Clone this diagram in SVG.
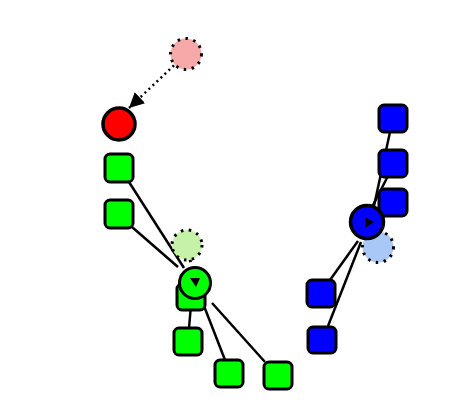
<svg xmlns="http://www.w3.org/2000/svg" width="474" height="409" viewBox="0 0 474 409">
<defs>
<style>
.sq{stroke:#000;stroke-width:3}
.g{fill:#00ff00}
.b{fill:#0000ff}
.e{stroke:#000;stroke-width:2.5;fill:none}
.d{stroke:#000;stroke-width:3;fill:none;stroke-dasharray:2.5 5}
.ghost{stroke:#000;stroke-width:3;stroke-dasharray:2.5 5.5}
</style>
<marker id="ah" viewBox="0 0 10 10" refX="10" refY="5" markerWidth="6" markerHeight="6" orient="auto">
<path d="M0,0 L10,5 L0,10 z" fill="#000"/>
</marker>
</defs>
<rect width="474" height="409" fill="#fff"/>
<g id="connectors">
<line class="d" x1="186" y1="54" x2="129" y2="108" style="stroke-dasharray:2 3.5;stroke-width:2.5" marker-end="url(#ah)"/>
<line class="d" x1="187" y1="245" x2="195" y2="283"/>
<line class="d" x1="378" y1="247" x2="367" y2="222"/>
<line class="e" x1="129" y1="182" x2="184" y2="268"/>
<line class="e" x1="132" y1="227" x2="178" y2="267"/>
<line class="e" x1="191" y1="305" x2="189" y2="328"/>
<line class="e" x1="204" y1="306" x2="225" y2="360"/>
<line class="e" x1="212" y1="303" x2="265" y2="362"/>
<line class="e" x1="390" y1="132" x2="374" y2="206"/>
<line class="e" x1="388" y1="176" x2="372" y2="207"/>
<line class="e" x1="382" y1="210" x2="376" y2="215"/>
<line class="e" x1="358" y1="241" x2="330" y2="280"/>
<line class="e" x1="361" y1="242" x2="328" y2="326"/>
</g>
<g id="pink"><circle cx="186" cy="54" r="15.5" fill="#f7a9a9" class="ghost"/></g>
<g id="red"><circle cx="119" cy="124" r="16" fill="#ff0000" stroke="#000" stroke-width="3.5"/></g>
<g id="gs1"><rect class="sq g" x="105" y="154" width="28" height="28" rx="5"/></g>
<g id="gs2"><rect class="sq g" x="105" y="200" width="28" height="28" rx="5"/></g>
<g id="lightgreen"><circle cx="187" cy="245" r="15" fill="#c6f2a8" class="ghost"/></g>
<g id="gs3"><rect class="sq g" x="177" y="284" width="28" height="26" rx="5"/></g>
<g id="ghub"><circle cx="195" cy="283" r="15.5" fill="#00ff00" stroke="#000" stroke-width="3"/><path d="M190,278 L200,278 L196,287 z" fill="#000"/></g>
<g id="gs4"><rect class="sq g" x="174" y="328" width="28" height="27" rx="5"/></g>
<g id="gs5"><rect class="sq g" x="215" y="360" width="28" height="27" rx="5"/></g>
<g id="gs6"><rect class="sq g" x="264" y="362" width="28" height="27" rx="5"/></g>
<g id="bs1"><rect class="sq b" x="379" y="105" width="28" height="27" rx="5"/></g>
<g id="bs2"><rect class="sq b" x="379" y="150" width="28" height="27" rx="5"/></g>
<g id="bs3"><rect class="sq b" x="379" y="189" width="28" height="27" rx="5"/></g>
<g id="lightblue"><circle cx="378" cy="247" r="15.5" fill="#a9c8f7" class="ghost"/></g>
<g id="bhub"><circle cx="367" cy="222" r="16.5" fill="#0000ff" stroke="#000" stroke-width="3.5"/><path d="M365,217 L374,222 L365,228 z" fill="#000"/></g>
<g id="bs4"><rect class="sq b" x="307" y="280" width="28" height="27" rx="5"/></g>
<g id="bs5"><rect class="sq b" x="308" y="327" width="28" height="26" rx="5"/></g>
</svg>
